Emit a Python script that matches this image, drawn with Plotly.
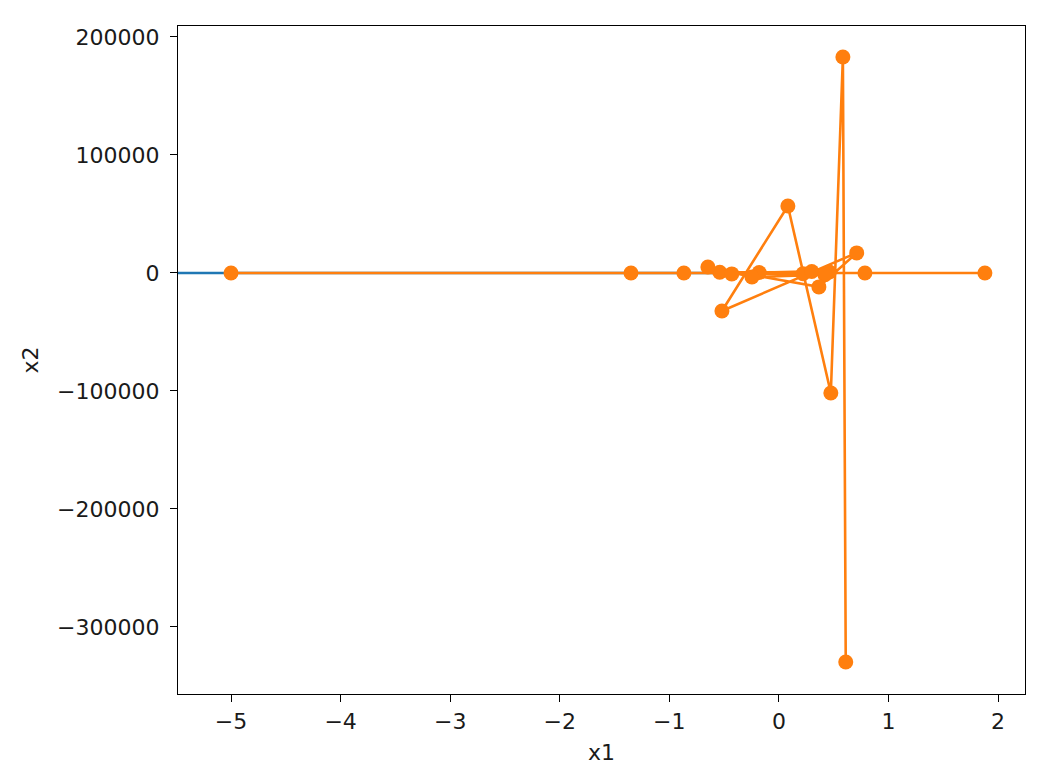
import plotly.graph_objects as go

# contour-like reference line (blue)
base_x = [-5.6, 0.0]
base_y = [0.0, 0.0]

# iterate path (orange)
path_x = [-5.0, 1.88, -1.35, 0.785, -0.867, 0.46, -0.54, 0.22, -0.43, 0.30,
          -0.18, 0.42, -0.246, -0.648, 0.365, 0.71, -0.52, 0.082, 0.474, 0.584, 0.61]
path_y = [0, 0, 0, 0, 0, 800, 600, -600, -800, 1200,
          300, -1500, -3400, 5000, -11800, 17000, -32200, 56800, -101700, 183000, -329700]

x_ticks = [-5, -4, -3, -2, -1, 0, 1, 2]
x_labels = ["−5", "−4", "−3", "−2", "−1", "0", "1", "2"]
y_ticks = [200000, 100000, 0, -100000, -200000, -300000]
y_labels = ["200000", "100000", "0", "−100000", "−200000", "−300000"]

fig = go.Figure()
fig.add_trace(go.Scatter(x=base_x, y=base_y, mode="lines",
                         line=dict(color="#1f77b4", width=2.5), showlegend=False))
fig.add_trace(go.Scatter(x=path_x, y=path_y, mode="lines+markers",
                         line=dict(color="#ff7f0e", width=2.6),
                         marker=dict(color="#ff7f0e", size=15), showlegend=False))

axis_common = dict(showline=True, mirror=True, linecolor="black", linewidth=1.3,
                   ticks="outside", ticklen=7, tickwidth=1.3, tickcolor="black",
                   showgrid=False, zeroline=False, automargin=False,
                   tickfont=dict(family="DejaVu Sans", size=22, color="#1a1a1a"))

fig.update_layout(
    width=1034, height=758,
    margin=dict(l=170, r=17, t=18, b=72),
    paper_bgcolor="white", plot_bgcolor="white",
    font=dict(family="DejaVu Sans", size=22, color="#1a1a1a"),
    xaxis=dict(range=[-5.484, 2.246], tickvals=x_ticks, ticktext=x_labels,
               ticklabelstandoff=0,
               title=dict(text="x1", standoff=12, font=dict(size=22)), **axis_common),
    yaxis=dict(range=[-356800, 209300], tickvals=y_ticks, ticktext=y_labels,
               ticklabelstandoff=6,
               title=dict(text="x2", standoff=12, font=dict(size=22)), **axis_common),
)

fig.write_html("out.html")
